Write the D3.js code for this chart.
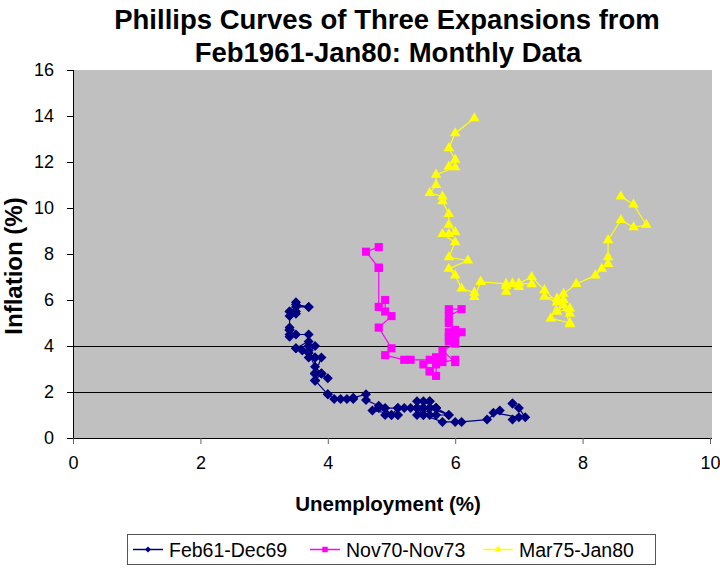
<!DOCTYPE html>
<html>
<head>
<meta charset="utf-8">
<script src="https://cdn.jsdelivr.net/npm/d3@7"></script>
<style>
  body { margin: 0; background: #fff; }
  text { font-family: Arial, "Liberation Sans", sans-serif; }
</style>
</head>
<body>
<div id="chart"></div>
<script>

// Feb61-Dec69, monthly
var expA_unemp = [
  6.9, 6.9, 7.0, 7.1, 6.9, 7.0, 6.6, 6.7, 6.5, 6.1, 6.0,
  5.8, 5.5, 5.6, 5.6, 5.5, 5.5, 5.4, 5.7, 5.6, 5.4, 5.7, 5.5,
  5.7, 5.9, 5.7, 5.7, 5.9, 5.6, 5.6, 5.4, 5.5, 5.5, 5.7, 5.5,
  5.6, 5.4, 5.4, 5.3, 5.1, 5.2, 4.9, 5.0, 5.1, 5.1, 4.8, 5.0,
  4.9, 5.1, 4.7, 4.8, 4.6, 4.6, 4.4, 4.4, 4.3, 4.2, 4.1, 4.0,
  4.0, 3.8, 3.8, 3.8, 3.9, 3.8, 3.8, 3.8, 3.7, 3.7, 3.6, 3.8,
  3.9, 3.8, 3.8, 3.8, 3.8, 3.9, 3.8, 3.8, 3.8, 4.0, 3.9, 3.8,
  3.7, 3.8, 3.7, 3.5, 3.5, 3.7, 3.7, 3.5, 3.4, 3.4, 3.4, 3.4,
  3.4, 3.4, 3.4, 3.4, 3.4, 3.5, 3.5, 3.5, 3.7, 3.7, 3.5, 3.5
];
var expA_infl = [
  1.5, 1.5, 1.3, 0.9, 0.8, 0.9, 1.1, 1.2, 0.8, 0.7, 0.7,
  0.7, 1.0, 1.0, 1.3, 1.3, 1.3, 1.0, 1.3, 1.3, 1.3, 1.3, 1.3,
  1.3, 1.0, 1.3, 1.0, 1.0, 1.3, 1.6, 1.3, 1.0, 1.3, 1.3, 1.6,
  1.6, 1.6, 1.3, 1.3, 1.3, 1.3, 1.3, 1.0, 1.3, 1.0, 1.3, 1.0,
  1.0, 1.0, 1.2, 1.4, 1.65, 1.9, 1.75, 1.7, 1.7, 1.7, 1.7, 1.9,
  1.9, 2.5, 2.5, 2.8, 2.8, 2.5, 2.8, 3.5, 3.5, 3.8, 3.8, 3.5,
  3.5, 2.8, 2.8, 2.5, 2.8, 2.8, 2.8, 2.8, 2.8, 2.6, 2.8, 3.1,
  3.7, 4.0, 4.0, 3.9, 3.9, 4.2, 4.5, 4.5, 4.5, 4.8, 4.7, 4.7,
  4.4, 4.7, 5.3, 5.5, 5.5, 5.5, 5.4, 5.7, 5.7, 5.7, 5.8, 5.9
];

// Nov70-Nov73
var expB_unemp = [
  5.9, 6.1,
  5.9, 5.9, 6.0, 5.9, 5.9, 5.9, 6.0, 6.1, 6.0, 5.8, 6.0, 6.0,
  5.8, 5.7, 5.8, 5.7, 5.7, 5.7, 5.6, 5.6, 5.5, 5.6, 5.3, 5.2,
  4.9, 5.0, 4.8, 5.0, 4.9, 4.9, 4.8, 4.8, 4.8, 4.6, 4.8
];
var expB_infl = [
  5.6, 5.6,
  5.3, 5.0, 4.7, 4.2, 4.4, 4.6, 4.4, 4.6, 4.1, 3.8, 3.3, 3.4,
  3.3, 3.5, 3.5, 3.5, 3.2, 2.7, 2.9, 2.9, 3.2, 3.4, 3.4, 3.4,
  3.6, 3.9, 4.8, 5.3, 5.5, 6.0, 5.7, 7.4, 7.4, 8.1, 8.3
];

// Mar75-Jan80
var expC_unemp = [
  8.6, 8.8, 9.0, 8.8, 8.6, 8.4, 8.4, 8.4, 8.3, 8.2,
  7.9, 7.7, 7.6, 7.7, 7.4, 7.6, 7.8, 7.8, 7.6, 7.7, 7.8, 7.8,
  7.5, 7.6, 7.4, 7.2, 7.0, 7.2, 6.9, 7.0, 6.8, 6.8, 6.8, 6.4,
  6.4, 6.3, 6.3, 6.1, 6.0, 5.9, 6.2, 5.9, 6.0, 5.8, 5.9, 6.0,
  5.9, 5.9, 5.8, 5.8, 5.6, 5.7, 5.7, 6.0, 5.9, 6.0, 5.9, 6.0,
  6.3
];
var expC_infl = [
  10.5, 10.15, 9.27, 9.16, 9.48, 8.6, 7.86, 7.57, 7.36, 7.07,
  6.7, 6.27, 6.06, 6.0, 6.14, 5.9, 5.4, 5.63, 5.49, 5.78, 4.95, 5.0,
  5.2, 5.9, 6.43, 7.0, 6.72, 6.69, 6.72, 6.57, 6.6, 6.36, 6.7, 6.79,
  6.78, 6.13, 6.32, 6.5, 7.07, 7.36, 7.72, 7.86, 8.51, 8.87, 8.87, 8.95,
  9.27, 9.74, 10.3, 10.5, 10.65, 11.0, 11.45, 11.77, 11.8, 12.1, 12.6, 13.25,
  13.9
];

var seriesNames = ["Feb61-Dec69", "Nov70-Nov73", "Mar75-Jan80"];
var xTicks = [0, 2, 4, 6, 8, 10];
var yTicks = [0, 2, 4, 6, 8, 10, 12, 14, 16];
var refLines = [2, 4];

var svgWidth = 720;
var svgHeight = 569;

var margin = {
  top: 70,
  right: 8,
  bottom: 131,
  left: 73
};

var width = svgWidth - margin.left - margin.right;
var height = svgHeight - margin.top - margin.bottom;

var svg = d3.select("#chart")
  .append("svg")
  .attr("width", svgWidth)
  .attr("height", svgHeight);

// title
var title = svg.append("g")
  .attr("font-weight", "bold")
  .attr("font-size", "27.5px")
  .attr("text-anchor", "middle");

title.append("text")
  .attr("x", 387)
  .attr("y", 29)
  .text("Phillips Curves of Three Expansions from");

title.append("text")
  .attr("x", 388)
  .attr("y", 62)
  .text("Feb1961-Jan80: Monthly Data");

var chartGroup = svg.append("g")
  .attr("transform", `translate(${margin.left}, ${margin.top})`);

var xScale = d3.scaleLinear()
  .domain([0, 10])
  .range([0, 637]);

var yScale = d3.scaleLinear()
  .domain([0, 16])
  .range([height, 0]);

// plot area
chartGroup.append("rect")
  .attr("x", 0)
  .attr("y", 0)
  .attr("width", width)
  .attr("height", height)
  .attr("fill", "#c0c0c0");

// reference lines at 2% and 4%
chartGroup.selectAll(".ref")
  .data(refLines)
  .enter()
  .append("line")
  .attr("class", "ref")
  .attr("x1", 0)
  .attr("x2", width)
  .attr("y1", d => Math.round(yScale(d)) + 0.5)
  .attr("y2", d => Math.round(yScale(d)) + 0.5)
  .attr("stroke", "#000")
  .attr("stroke-width", 1.2);

// axes
var bottomAxis = d3.axisBottom(xScale)
  .tickValues(xTicks)
  .tickSize(6)
  .tickPadding(12)
  .tickFormat(d3.format("d"));

var leftAxis = d3.axisLeft(yScale)
  .tickValues(yTicks)
  .tickSize(6)
  .tickPadding(13)
  .tickFormat(d3.format("d"));

var xAxis = chartGroup.append("g")
  .attr("transform", `translate(0, ${height})`)
  .call(bottomAxis);

xAxis.select(".domain").attr("d", `M0,0.5H${width}`).attr("stroke", "#000");
xAxis.selectAll(".tick line").attr("stroke", "#666");
xAxis.selectAll("text")
  .attr("font-size", "18px")
  .attr("fill", "#000");

var yAxis = chartGroup.append("g")
  .call(leftAxis);

yAxis.select(".domain").attr("d", `M0.5,0V${height}`).attr("stroke", "#000");
yAxis.selectAll(".tick line").attr("stroke", "#000");
yAxis.selectAll("text")
  .attr("font-size", "18px")
  .attr("fill", "#000");

// axis titles
svg.append("text")
  .attr("x", 388)
  .attr("y", 511)
  .attr("text-anchor", "middle")
  .attr("font-weight", "bold")
  .attr("font-size", "20.5px")
  .text("Unemployment (%)");

svg.append("text")
  .attr("transform", "translate(22, 266) rotate(-90)")
  .attr("text-anchor", "middle")
  .attr("font-weight", "bold")
  .attr("font-size", "24px")
  .text("Inflation (%)");

// series
var series = [
  { name: seriesNames[0], u: expA_unemp, p: expA_infl, color: "#000080",
    symbol: d3.symbolSquare, size: 50, rotate: 45, lsize: 18 },
  { name: seriesNames[1], u: expB_unemp, p: expB_infl, color: "#ff00ff",
    symbol: d3.symbolSquare, size: 66, rotate: 0, lsize: 30 },
  { name: seriesNames[2], u: expC_unemp, p: expC_infl, color: "#ffff00",
    symbol: d3.symbolTriangle, size: 48, rotate: 0, lsize: 22 }
];

var line = d3.line()
  .x(d => xScale(d[0]))
  .y(d => yScale(d[1]));

series.forEach(function(s) {
  var pts = s.u.map((u, i) => [u, s.p[i]]);

  chartGroup.append("path")
    .datum(pts)
    .attr("d", line)
    .attr("fill", "none")
    .attr("stroke", s.color)
    .attr("stroke-width", 1.2);

  chartGroup.selectAll(null)
    .data(pts)
    .enter()
    .append("path")
    .attr("d", d3.symbol().type(s.symbol).size(s.size))
    .attr("transform", d => `translate(${xScale(d[0])}, ${yScale(d[1])}) rotate(${s.rotate})`)
    .attr("fill", s.color);
});

// legend
var legend = svg.append("g")
  .attr("transform", "translate(127, 534)");

legend.append("rect")
  .attr("x", 0.5)
  .attr("y", 0.5)
  .attr("width", 528)
  .attr("height", 30)
  .attr("fill", "#fff")
  .attr("stroke", "#555");

var legendX = [6, 183, 356];

series.forEach(function(s, i) {
  var g = legend.append("g")
    .attr("transform", `translate(${legendX[i]}, 15.5)`);

  g.append("line")
    .attr("x1", 0)
    .attr("x2", 30)
    .attr("stroke", s.color)
    .attr("stroke-width", 1.5);

  g.append("path")
    .attr("d", d3.symbol().type(s.symbol).size(s.lsize))
    .attr("transform", `translate(15, 0) rotate(${s.rotate})`)
    .attr("fill", s.color);

  g.append("text")
    .attr("x", 36)
    .attr("y", 7)
    .attr("font-size", "19.5px")
    .text(s.name);
});

</script>
</body>
</html>
